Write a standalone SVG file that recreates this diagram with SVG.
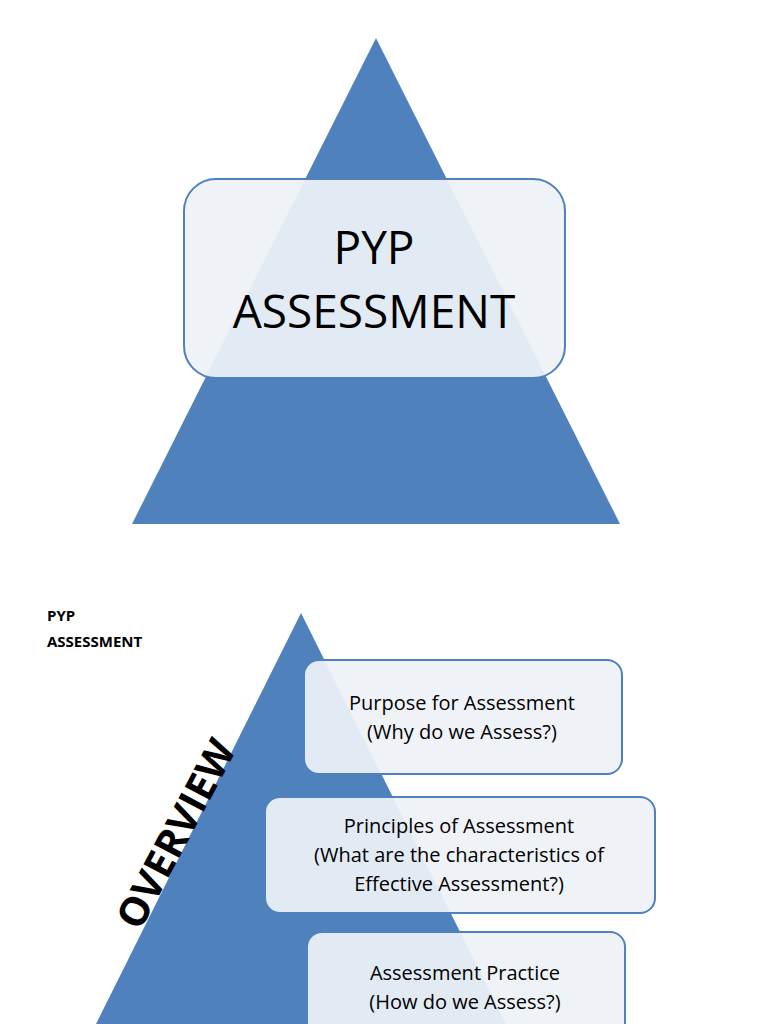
<svg xmlns="http://www.w3.org/2000/svg" width="768" height="1024" viewBox="0 0 768 1024">
<style>
.tri{fill:#4f81bd}
.box{fill:#eef2f8;fill-opacity:0.93;stroke:#4f81bd;stroke-width:2}
.t{font-family:"Open Sans","Liberation Sans",sans-serif;fill:#000;text-anchor:middle}
</style>
<rect width="768" height="1024" fill="#fff"/>
<g id="top">
<polygon class="tri" points="376,38 620,524 132,524"/>
<rect class="box" x="184" y="179" width="381" height="199" rx="32"/>
<text class="t" x="374" y="264" font-size="46">PYP</text>
<text class="t" x="374" y="328" font-size="46">ASSESSMENT</text>
</g>
<text font-family="'Open Sans','Liberation Sans',sans-serif" font-weight="bold" font-size="15" x="47" y="621">PYP</text>
<text font-family="'Open Sans','Liberation Sans',sans-serif" font-weight="bold" font-size="15" x="47" y="647">ASSESSMENT</text>
<polygon class="tri" points="301,613 512,1036 90,1036"/>
<text class="t" transform="translate(176,834) rotate(-62)" font-size="40" font-weight="bold" dy="14">OVERVIEW</text>
<g id="n1">
<rect class="box" x="304" y="660" width="318" height="114" rx="15"/>
<text class="t" x="462" y="710" font-size="20">Purpose for Assessment</text>
<text class="t" x="462" y="739" font-size="20">(Why do we Assess?)</text>
</g>
<g id="n2">
<rect class="box" x="265" y="797" width="390" height="116" rx="15"/>
<text class="t" x="459" y="833" font-size="20">Principles of Assessment</text>
<text class="t" x="459" y="862" font-size="20">(What are the characteristics of</text>
<text class="t" x="459" y="891" font-size="20">Effective Assessment?)</text>
</g>
<g id="n3">
<rect class="box" x="307" y="932" width="318" height="110" rx="15"/>
<text class="t" x="465" y="980" font-size="20">Assessment Practice</text>
<text class="t" x="465" y="1009" font-size="20">(How do we Assess?)</text>
</g>
<g id="connectors"/>
</svg>
